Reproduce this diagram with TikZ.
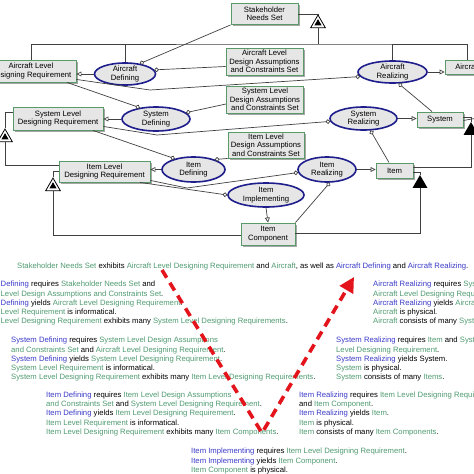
\documentclass[tikz,border=0pt]{standalone}
\usepackage{fontspec}
\setmainfont{Liberation Sans}
\usetikzlibrary{shapes.geometric,arrows.meta,shadows}
\definecolor{boxgreen}{HTML}{5A9A68}
\definecolor{boxfill}{HTML}{E6E6E6}
\definecolor{procline}{HTML}{1E1E8C}
\definecolor{linkgray}{HTML}{404040}
\definecolor{procblue}{HTML}{3A3AC8}
\definecolor{objgreen}{HTML}{4F9A70}
\definecolor{vred}{HTML}{E3141C}
\newcommand{\procname}[1]{\textcolor{procblue}{#1}}
\newcommand{\objname}[1]{\textcolor{objgreen}{#1}}

\begin{document}
\begin{tikzpicture}[x=1pt, y=-1pt,
    obj/.style={rectangle, draw=boxgreen, fill=boxfill, line width=0.9pt, inner sep=0.5pt, align=center,
      font=\fontsize{7.7}{8.3}\selectfont,
      drop shadow={shadow xshift=1.6pt, shadow yshift=-1.6pt, fill=black!35, opacity=1}},
    proc/.style={ellipse, draw=procline, fill=boxfill, line width=1.6pt, inner sep=0pt, align=center,
      font=\fontsize{7.7}{8.3}\selectfont},
    link/.style={draw=linkgray, line width=0.7pt},
    inst/.style={link, -{Circle[fill=white, length=4.5pt]}},
    res/.style={link, -{Triangle[open, length=5pt, width=5pt]}},
    exhib/.style={regular polygon, regular polygon sides=3, minimum size=17pt, inner sep=0pt,
      draw=black, line width=0.8pt, fill=white,
      path picture={\fill[black] ([yshift=2.2pt]path picture bounding box.center)
        -- ++(-3.6pt,-6.2pt) -- ++(7.2pt,0pt) -- cycle;}},
    aggr/.style={regular polygon, regular polygon sides=3, minimum size=17pt, inner sep=0pt, fill=black},
    txt/.style={anchor=north west, inner sep=0pt, align=left, font=\fontsize{7.7}{9.3}\selectfont}
  ]
  \useasboundingbox (0,0) rectangle (474,474);

  % objects
  \node[obj, minimum width=67pt, minimum height=21pt] (sns) at (264.5,14) {Stakeholder\\Needs Set};
  \node[obj, minimum width=90pt, minimum height=22pt] (aldr) at (31,71) {Aircraft Level\\Designing Requirement};
  \node[obj, minimum width=77pt, minimum height=27pt] (adacs) at (264.5,61.5) {Aircraft Level\\Design Assumptions\\and Constraints Set};
  \node[obj, minimum width=45pt, minimum height=14pt] (aircraft) at (467.5,67) {Aircraft};
  \node[obj, minimum width=77pt, minimum height=27pt] (sdacs) at (265,99.5) {System Level\\Design Assumptions\\and Constraints Set};
  \node[obj, minimum width=90pt, minimum height=23pt] (sldr) at (58,118.5) {System Level\\Designing Requirement};
  \node[obj, minimum width=46pt, minimum height=15pt] (system) at (440,119.5) {System};
  \node[obj, minimum width=76pt, minimum height=26pt] (idacs) at (266,145) {Item Level\\Design Assumptions\\and Constraints Set};
  \node[obj, minimum width=91pt, minimum height=21pt] (ildr) at (104.5,171.5) {Item Level\\Designing Requirement};
  \node[obj, minimum width=37pt, minimum height=15pt] (item) at (394.5,170.5) {Item};
  \node[obj, minimum width=54pt, minimum height=22pt] (icomp) at (268,234) {Item\\Component};

  % processes
  \node[proc, minimum width=61pt, minimum height=22pt] (ad) at (125,74) {Aircraft\\Defining};
  \node[proc, minimum width=69pt, minimum height=22pt] (ar) at (392.5,72) {Aircraft\\Realizing};
  \node[proc, minimum width=68pt, minimum height=24pt] (sd) at (156,119) {System\\Defining};
  \node[proc, minimum width=67pt, minimum height=23pt] (sr) at (363.5,118.5) {System\\Realizing};
  \node[proc, minimum width=63pt, minimum height=25pt] (id) at (193.5,169.5) {Item\\Defining};
  \node[proc, minimum width=58pt, minimum height=25pt] (ir) at (327,169.5) {Item\\Realizing};
  \node[proc, minimum width=76pt, minimum height=24pt] (ii) at (266,195) {Item\\Implementing};

  % structural symbols
  \node[exhib] (exsns) at (318,23.5) {};
  \node[exhib] (exsldr) at (5,137.5) {};
  \node[exhib] (exildr) at (53,186.5) {};
  \node[aggr] (agsys) at (471,130.5) {};
  \node[aggr] (agitem) at (420,183.5) {};
  \coordinate (bus) at (318,44);
  \coordinate (offright) at (480,117.5);

  \draw[link] (sns.east) -| (exsns.corner 1);
  \draw[link] (exsns.side 2) -- (bus);
  \draw[link] (aldr.north) |- (bus) -| (aircraft.north);
  \draw[link] (ad.north) -- (ad.north |- bus);
  \draw[link] (ar.north) -- (ar.north |- bus);
  \draw[link] ([yshift=6pt]sldr.west) -| (exsldr.corner 1);
  \draw[link] (exsldr.side 2) |- ([yshift=6pt]ildr.west);
  \draw[link] (ildr.west) -| (exildr.corner 1);
  \draw[link] (exildr.side 2) |- ([yshift=-1pt]icomp.west);
  \draw[link] ([yshift=2pt]system.east) -| (agsys.corner 1);
  \draw[link] ([yshift=-1pt]system.east) -- (offright);
  \draw[link] (agsys.side 2) |- ([yshift=3.5pt]item.east);
  \draw[link] ([yshift=-2pt]item.east) -| (agitem.corner 1);
  \draw[link] (agitem.side 2) |- ([yshift=1pt]icomp.east);

  % instrument links
  \coordinate (bendA) at (150,90);
  \coordinate (bendS) at (157,135);
  \coordinate (bendI) at (187,188);
  \draw[inst] (sns.south west) -- (ad.35);
  \draw[inst] ([yshift=-5pt]adacs.west) -- (ad.8);
  \draw[inst] ([yshift=3pt]aldr.south east) -- (bendA) -- (ar.188);
  \draw[inst] ([xshift=-8pt]system.north) -- (ar.-62);
  \draw[inst] ([xshift=36pt]aldr.south) -- (sd.145);
  \draw[inst] ([yshift=-4.5pt]sdacs.west) -- (sd.12);
  \draw[inst] ([yshift=4pt]sldr.south east) -- (bendS) -- (sr.185);
  \draw[inst] ([xshift=-5.5pt]item.north) -- (sr.-60);
  \draw[inst] ([xshift=35pt]sldr.south) -- (id.150);
  \draw[inst] (idacs.south west) -- (id.25);
  \draw[inst] ([yshift=2pt]ildr.south east) -- (bendI) -- (ir.186);
  \draw[inst] ([xshift=35.5pt]ildr.south) -- (ii.west);
  \draw[inst] (icomp.north east) -- (ir.-78);

  % result links
  \draw[res] (ad.west) -- (ad.west -| aldr.east);
  \draw[res] (ar.east) -- (ar.east -| aircraft.west);
  \draw[res] (sd.west) -- (sd.west -| sldr.east);
  \draw[res] (sr.east) -- (sr.east -| system.west);
  \draw[res] (id.west) -- (id.west -| ildr.east);
  \draw[res] (ir.east) -- (ir.east -| item.west);
  \draw[res] (ii.south) -- (icomp.north);

  % sentences
  \node[txt] (summary) at (17,263) {\objname{Stakeholder Needs Set} exhibits \objname{Aircraft Level Designing Requirement} and \objname{Aircraft}, as well as \procname{Aircraft Defining} and \procname{Aircraft Realizing}.};
  \node[txt] (adtext) at (-26,281) {\procname{Aircraft Defining} requires \objname{Stakeholder Needs Set} and\\
    \objname{Aircraft Level Design Assumptions and Constraints Set}.\\
    \procname{Aircraft Defining} yields \objname{Aircraft Level Designing Requirement}.\\
    \objname{Aircraft Level Requirement} is informatical.\\
    \objname{Aircraft Level Designing Requirement} exhibits many \objname{System Level Designing Requirements}.};
  \node[txt] (artext) at (373,281) {\procname{Aircraft Realizing} requires \objname{System} and\\
    \objname{Aircraft Level Designing Requirement}.\\
    \procname{Aircraft Realizing} yields \objname{Aircraft}.\\
    \objname{Aircraft} is physical.\\
    \objname{Aircraft} consists of many \objname{Systems}.};
  \node[txt] (sdtext) at (11,337) {\procname{System Defining} requires \objname{System Level Design Assumptions}\\
    \objname{and Constraints Set} and \objname{Aircraft Level Designing Requirement}.\\
    \procname{System Defining} yields \objname{System Level Designing Requirement}.\\
    \objname{System Level Requirement} is informatical.\\
    \objname{System Level Designing Requirement} exhibits many \objname{Item Level Designing Requirements}.};
  \node[txt] (srtext) at (336,337) {\procname{System Realizing} requires \objname{Item} and \objname{System}\\
    \objname{Level Designing Requirement}.\\
    \procname{System Realizing} yields System.\\
    \objname{System} is physical.\\
    \objname{System} consists of many \objname{Items}.};
  \node[txt] (idtext) at (46,391.5) {\procname{Item Defining} requires \objname{Item Level Design Assumptions}\\
    \objname{and Constraints Set} and \objname{System Level Designing Requirement}.\\
    \procname{Item Defining} yields \objname{Item Level Designing Requirement}.\\
    \objname{Item Level Requirement} is informatical.\\
    \objname{Item Level Designing Requirement} exhibits many \objname{Item Components}.};
  \node[txt] (irtext) at (299,391.5) {\procname{Item Realizing} requires \objname{Item Level Designing Requirement}\\
    and \objname{Item Component}.\\
    \procname{Item Realizing} yields \objname{Item}.\\
    \objname{Item} is physical.\\
    \objname{Item} consists of many \objname{Item Components}.};
  \node[txt] (iitext) at (191,448) {\procname{Item Implementing} requires \objname{Item Level Designing Requirement}.\\
    \procname{Item Implementing} yields \objname{Item Component}.\\
    \objname{Item Component} is physical.};

  % V arrow
  \coordinate (vstart) at (162,270);
  \coordinate (vbottom) at (262,433);
  \coordinate (vtip) at (354,277);
  \draw[vred, line width=3.6pt, dash pattern=on 9pt off 6pt, -{Triangle[length=15pt, width=15pt]}]
    (vstart) -- (vbottom) -- (vtip);
\end{tikzpicture}
\end{document}
